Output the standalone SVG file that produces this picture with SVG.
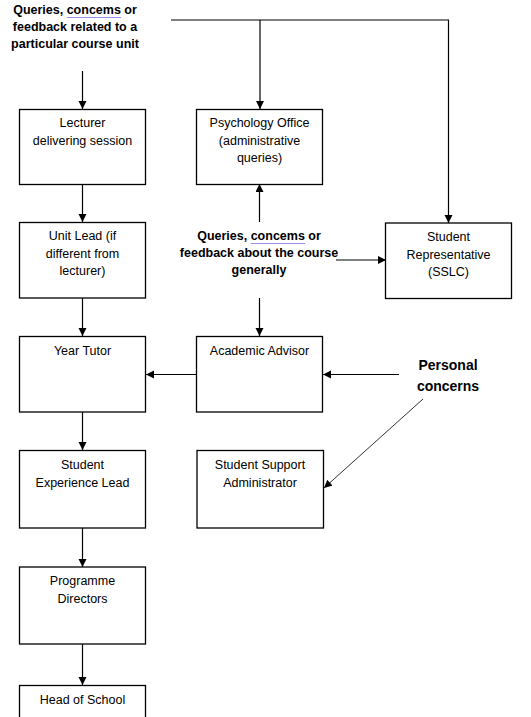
<svg xmlns="http://www.w3.org/2000/svg" width="531" height="717" viewBox="0 0 531 717">
<style>
.box{fill:#fff;stroke:#000;stroke-width:1.3}
.lbl{font-family:"Liberation Sans",Arial,sans-serif;font-size:12.5px;fill:#000;text-anchor:middle}
.hdr{font-family:"Liberation Sans",Arial,sans-serif;font-size:12.5px;font-weight:bold;fill:#000;text-anchor:middle}
.big{font-family:"Liberation Sans",Arial,sans-serif;font-size:14px;font-weight:bold;fill:#000;text-anchor:middle}
.ln{fill:none;stroke:#000;stroke-width:1.2}
.thin{fill:none;stroke:#000;stroke-width:0.8}
.spell{fill:none;stroke:#9a8cf0;stroke-width:1}
</style>
<defs>
<marker id="ah" markerUnits="userSpaceOnUse" markerWidth="9" markerHeight="9" refX="8" refY="4" orient="auto">
<path d="M0,0 L8,4 L0,8 z" fill="#000"/>
</marker>
</defs>
<rect width="531" height="717" fill="#fff"/>

<g id="connectors">
<line class="ln" x1="82.5" y1="71" x2="82.5" y2="109" marker-end="url(#ah)"/>
<polyline class="ln" points="171,20 448.5,20 448.5,223" marker-end="url(#ah)"/>
<line class="ln" x1="260" y1="20" x2="260" y2="109" marker-end="url(#ah)"/>
<line class="ln" x1="82.5" y1="184" x2="82.5" y2="222" marker-end="url(#ah)"/>
<line class="ln" x1="82.5" y1="298" x2="82.5" y2="336" marker-end="url(#ah)"/>
<line class="ln" x1="82.5" y1="412" x2="82.5" y2="450" marker-end="url(#ah)"/>
<line class="ln" x1="82.5" y1="528" x2="82.5" y2="567" marker-end="url(#ah)"/>
<line class="ln" x1="82.5" y1="644" x2="82.5" y2="685" marker-end="url(#ah)"/>
<line class="ln" x1="259.5" y1="222" x2="259.5" y2="184" marker-end="url(#ah)"/>
<line class="ln" x1="336" y1="260" x2="386" y2="260" marker-end="url(#ah)"/>
<line class="ln" x1="259.5" y1="298" x2="259.5" y2="336" marker-end="url(#ah)"/>
<line class="ln" x1="399" y1="374.5" x2="323" y2="374.5" marker-end="url(#ah)"/>
<line class="ln" x1="197" y1="374.5" x2="146" y2="374.5" marker-end="url(#ah)"/>
<line class="thin" x1="423" y1="399" x2="324" y2="488" marker-end="url(#ah)"/>
</g>

<g id="unit-queries">
<text class="hdr" x="75" y="14">Queries, concems or</text>
<text class="hdr" x="75" y="31">feedback related to a</text>
<text class="hdr" x="75" y="48">particular course unit</text>
<path class="spell" d="M67,17.5 h54"/>
</g>

<g id="general-queries">
<text class="hdr" x="259" y="240">Queries, concems or</text>
<text class="hdr" x="259" y="257">feedback about the course</text>
<text class="hdr" x="259" y="274">generally</text>
<path class="spell" d="M251,243.5 h54"/>
</g>

<g id="personal-concerns">
<text class="big" x="448" y="370">Personal</text>
<text class="big" x="448" y="391">concerns</text>
</g>

<g id="lecturer">
<rect class="box" x="19.5" y="109.5" width="126" height="75"/>
<text class="lbl" x="82.5" y="127">Lecturer</text>
<text class="lbl" x="82.5" y="145">delivering session</text>
</g>

<g id="psychology-office">
<rect class="box" x="196.5" y="109.5" width="126" height="75"/>
<text class="lbl" x="259.5" y="127">Psychology Office</text>
<text class="lbl" x="259.5" y="144.5">(administrative</text>
<text class="lbl" x="259.5" y="162">queries)</text>
</g>

<g id="unit-lead">
<rect class="box" x="19.5" y="222.5" width="126" height="75.5"/>
<text class="lbl" x="82.5" y="240">Unit Lead (if</text>
<text class="lbl" x="82.5" y="257.5">different from</text>
<text class="lbl" x="82.5" y="275">lecturer)</text>
</g>

<g id="student-representative">
<rect class="box" x="385.5" y="223" width="126" height="75.5"/>
<text class="lbl" x="448.5" y="241">Student</text>
<text class="lbl" x="448.5" y="258.5">Representative</text>
<text class="lbl" x="448.5" y="276">(SSLC)</text>
</g>

<g id="year-tutor">
<rect class="box" x="19.5" y="336.5" width="126" height="75.5"/>
<text class="lbl" x="82.5" y="355">Year Tutor</text>
</g>

<g id="academic-advisor">
<rect class="box" x="196.5" y="336.5" width="126" height="75.5"/>
<text class="lbl" x="259.5" y="355">Academic Advisor</text>
</g>

<g id="student-experience-lead">
<rect class="box" x="19.5" y="450.5" width="126" height="77.5"/>
<text class="lbl" x="82.5" y="469">Student</text>
<text class="lbl" x="82.5" y="487">Experience Lead</text>
</g>

<g id="student-support-administrator">
<rect class="box" x="197" y="450.5" width="126.5" height="77.5"/>
<text class="lbl" x="260" y="469">Student Support</text>
<text class="lbl" x="260" y="487">Administrator</text>
</g>

<g id="programme-directors">
<rect class="box" x="19.5" y="567" width="126" height="77"/>
<text class="lbl" x="82.5" y="585">Programme</text>
<text class="lbl" x="82.5" y="603">Directors</text>
</g>

<g id="head-of-school">
<rect class="box" x="19.5" y="685.5" width="126" height="60"/>
<text class="lbl" x="82.5" y="704">Head of School</text>
</g>
</svg>
